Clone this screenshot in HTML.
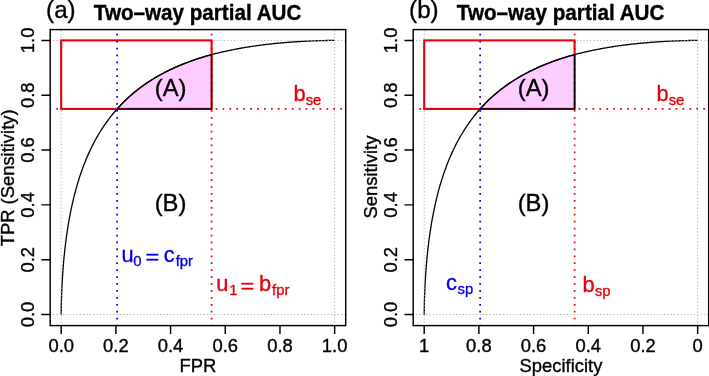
<!DOCTYPE html>
<html><head><meta charset="utf-8"><title>Two-way partial AUC</title>
<style>
html,body{margin:0;padding:0;background:#fff;}
body{width:709px;height:376px;overflow:hidden;}
svg{display:block;font-family:"Liberation Sans",Arial,Helvetica,sans-serif;}
text{stroke-width:0.35px;}
</style></head>
<body>
<svg width="709" height="376" viewBox="0 0 709 376">
<rect width="709" height="376" fill="#fff"/>
<clipPath id="clip0"><rect x="50.2" y="29.6" width="295.5" height="296"/></clipPath>
<g clip-path="url(#clip0)">
<polyline points="61.2,314.5 61.2,314.47 61.2,314.46 61.2,314.45 61.2,314.44 61.2,314.43 61.2,314.41 61.2,314.39 61.2,314.37 61.2,314.34 61.2,314.3 61.2,314.25 61.2,314.2 61.2,314.13 61.2,314.04 61.2,313.94 61.2,313.81 61.2,313.65 61.2,313.47 61.21,313.24 61.21,312.96 61.21,312.62 61.21,312.22 61.22,311.73 61.22,311.14 61.23,310.43 61.24,309.58 61.26,308.56 61.28,307.34 61.31,305.89 61.34,304.17 61.39,302.13 61.46,299.71 61.55,296.87 61.67,293.52 61.82,289.61 62.04,285.05 62.33,279.75 62.72,273.62 63.24,266.57 63.93,258.5 63.93,258.5 64.84,249.63 65.75,241.96 66.65,235.17 67.56,229.05 68.46,223.46 69.37,218.31 70.27,213.51 71.18,209.03 72.08,204.83 72.99,200.85 73.89,197.09 74.8,193.52 75.7,190.11 76.61,186.86 77.52,183.74 78.42,180.76 79.33,177.89 80.23,175.13 81.14,172.47 82.04,169.91 82.95,167.43 83.85,165.03 84.76,162.71 85.66,160.47 86.57,158.29 87.47,156.17 88.38,154.12 89.29,152.12 90.19,150.18 91.1,148.29 92,146.45 92.91,144.66 93.81,142.91 94.72,141.2 95.62,139.54 96.53,137.91 97.43,136.33 98.34,134.78 99.25,133.26 100.15,131.78 101.06,130.33 101.96,128.91 102.87,127.52 103.77,126.17 104.68,124.83 105.58,123.53 106.49,122.25 107.39,121 108.3,119.77 109.2,118.57 110.11,117.38 111.02,116.22 111.92,115.09 112.83,113.97 113.73,112.87 114.64,111.79 115.54,110.74 116.45,109.7 117.35,108.68 118.26,107.67 119.16,106.69 120.07,105.72 120.97,104.77 121.88,103.83 122.79,102.91 123.69,102 124.6,101.11 125.5,100.23 126.41,99.37 127.31,98.52 128.22,97.68 129.12,96.86 130.03,96.05 130.93,95.25 131.84,94.47 132.75,93.69 133.65,92.93 134.56,92.18 135.46,91.44 136.37,90.71 137.27,90 138.18,89.29 139.08,88.59 139.99,87.91 140.89,87.23 141.8,86.56 142.7,85.91 143.61,85.26 144.52,84.62 145.42,83.99 146.33,83.37 147.23,82.76 148.14,82.15 149.04,81.56 149.95,80.97 150.85,80.39 151.76,79.82 152.66,79.26 153.57,78.7 154.47,78.15 155.38,77.61 156.29,77.08 157.19,76.55 158.1,76.03 159,75.52 159.91,75.01 160.81,74.52 161.72,74.02 162.62,73.54 163.53,73.06 164.43,72.58 165.34,72.12 166.25,71.65 167.15,71.2 168.06,70.75 168.96,70.31 169.87,69.87 170.77,69.44 171.68,69.01 172.58,68.59 173.49,68.17 174.39,67.76 175.3,67.35 176.2,66.95 177.11,66.56 178.02,66.17 178.92,65.78 179.83,65.4 180.73,65.03 181.64,64.65 182.54,64.29 183.45,63.93 184.35,63.57 185.26,63.22 186.16,62.87 187.07,62.52 187.97,62.18 188.88,61.85 189.79,61.51 190.69,61.19 191.6,60.86 192.5,60.54 193.41,60.23 194.31,59.92 195.22,59.61 196.12,59.31 197.03,59.01 197.93,58.71 198.84,58.42 199.74,58.13 200.65,57.84 201.56,57.56 202.46,57.28 203.37,57.01 204.27,56.73 205.18,56.47 206.08,56.2 206.99,55.94 207.89,55.68 208.8,55.43 209.7,55.17 210.61,54.92 211.52,54.68 212.42,54.44 213.33,54.2 214.23,53.96 215.14,53.73 216.04,53.49 216.95,53.27 217.85,53.04 218.76,52.82 219.66,52.6 220.57,52.38 221.47,52.17 222.38,51.96 223.29,51.75 224.19,51.54 225.1,51.34 226,51.14 226.91,50.94 227.81,50.75 228.72,50.55 229.62,50.36 230.53,50.17 231.43,49.99 232.34,49.8 233.24,49.62 234.15,49.45 235.06,49.27 235.96,49.1 236.87,48.92 237.77,48.75 238.68,48.59 239.58,48.42 240.49,48.26 241.39,48.1 242.3,47.94 243.2,47.79 244.11,47.63 245.02,47.48 245.92,47.33 246.83,47.18 247.73,47.04 248.64,46.89 249.54,46.75 250.45,46.61 251.35,46.47 252.26,46.34 253.16,46.2 254.07,46.07 254.97,45.94 255.88,45.81 256.79,45.69 257.69,45.56 258.6,45.44 259.5,45.32 260.41,45.2 261.31,45.08 262.22,44.96 263.12,44.85 264.03,44.74 264.93,44.63 265.84,44.52 266.74,44.41 267.65,44.31 268.56,44.2 269.46,44.1 270.37,44 271.27,43.9 272.18,43.8 273.08,43.71 273.99,43.61 274.89,43.52 275.8,43.43 276.7,43.34 277.61,43.25 278.52,43.17 279.42,43.08 280.33,43 281.23,42.92 282.14,42.84 283.04,42.76 283.95,42.68 284.85,42.6 285.76,42.53 286.66,42.45 287.57,42.38 288.47,42.31 289.38,42.24 290.29,42.17 291.19,42.11 292.1,42.04 293,41.98 293.91,41.92 294.81,41.85 295.72,41.79 296.62,41.74 297.53,41.68 298.43,41.62 299.34,41.57 300.24,41.52 301.15,41.46 302.06,41.41 302.96,41.36 303.87,41.31 304.77,41.27 305.68,41.22 306.58,41.18 307.49,41.13 308.39,41.09 309.3,41.05 310.2,41.01 311.11,40.97 312.01,40.93 312.92,40.9 313.83,40.86 314.73,40.83 315.64,40.8 316.54,40.76 317.45,40.73 318.35,40.71 319.26,40.68 320.16,40.65 321.07,40.63 321.97,40.6 322.88,40.58 323.79,40.56 324.69,40.54 325.6,40.52 326.5,40.5 327.41,40.48 328.31,40.47 329.22,40.45 330.12,40.44 331.03,40.43 331.93,40.42 332.84,40.41 333.74,40.4 334.65,40.4" fill="none" stroke="#000" stroke-width="1.3" stroke-linejoin="round"/>
<line x1="50.2" y1="314.5" x2="345.7" y2="314.5" stroke="#A8A8A8" stroke-width="1.0" stroke-dasharray="1.1 2.25" stroke-dashoffset="0.55" fill="none"/>
<line x1="61.2" y1="325.6" x2="61.2" y2="29.6" stroke="#A8A8A8" stroke-width="1.0" stroke-dasharray="1.1 2.25" stroke-dashoffset="0.55" fill="none"/>
<line x1="50.2" y1="40.4" x2="345.7" y2="40.4" stroke="#A8A8A8" stroke-width="1.0" stroke-dasharray="1.1 2.25" stroke-dashoffset="0.55" fill="none"/>
<line x1="334.65" y1="325.6" x2="334.65" y2="29.6" stroke="#A8A8A8" stroke-width="1.0" stroke-dasharray="1.1 2.25" stroke-dashoffset="0.55" fill="none"/>
<line x1="50.2" y1="108.92" x2="345.7" y2="108.92" stroke="#E8000A" stroke-width="1.75" stroke-dasharray="1.75 5.175" stroke-dashoffset="0.8" fill="none"/>
<line x1="211.6" y1="325.6" x2="211.6" y2="29.6" stroke="#E8000A" stroke-width="1.75" stroke-dasharray="1.75 5.175" stroke-dashoffset="0.8" fill="none"/>
<line x1="117.13" y1="325.6" x2="117.13" y2="29.6" stroke="#0800E8" stroke-width="1.75" stroke-dasharray="1.75 5.175" stroke-dashoffset="0.8" fill="none"/>
<rect x="61.2" y="40.4" width="150.4" height="68.53" fill="none" stroke="#E8000A" stroke-width="2.1"/>
<polygon points="117.13,108.92 118.73,107.15 120.33,105.44 121.94,103.77 123.54,102.15 125.14,100.58 126.74,99.06 128.34,97.57 129.94,96.13 131.54,94.72 133.14,93.36 134.74,92.03 136.35,90.73 137.95,89.47 139.55,88.24 141.15,87.04 142.75,85.87 144.35,84.74 145.95,83.62 147.55,82.54 149.15,81.49 150.76,80.45 152.36,79.45 153.96,78.47 155.56,77.51 157.16,76.57 158.76,75.66 160.36,74.76 161.96,73.89 163.56,73.04 165.17,72.21 166.77,71.39 168.37,70.6 169.97,69.82 171.57,69.06 173.17,68.32 174.77,67.59 176.37,66.88 177.97,66.19 179.58,65.51 181.18,64.84 182.78,64.19 184.38,63.56 185.98,62.94 187.58,62.33 189.18,61.74 190.78,61.15 192.38,60.59 193.99,60.03 195.59,59.49 197.19,58.95 198.79,58.43 200.39,57.92 201.99,57.43 203.59,56.94 205.19,56.46 206.79,55.99 208.4,55.54 210,55.09 211.6,54.66 211.6,108.92 117.13,108.92" fill="#FF00FF" fill-opacity="0.2" stroke="#000" stroke-width="1.3" stroke-linejoin="miter"/>
</g>
<rect x="50.2" y="29.6" width="295.5" height="296" fill="none" stroke="#000" stroke-width="1.45"/>
<path d="M61.2 325.6V333.9M50.2 314.5H41.4M115.89 325.6V333.9M50.2 259.68H41.4M170.58 325.6V333.9M50.2 204.86H41.4M225.27 325.6V333.9M50.2 150.04H41.4M279.96 325.6V333.9M50.2 95.22H41.4M334.65 325.6V333.9M50.2 40.4H41.4" stroke="#000" stroke-width="1.45" fill="none"/>
<text x="61.2" y="351.7" font-size="18.4" text-anchor="middle" fill="#000" stroke="#000" font-weight="normal">0.0</text>
<text x="115.89" y="351.7" font-size="18.4" text-anchor="middle" fill="#000" stroke="#000" font-weight="normal">0.2</text>
<text x="170.58" y="351.7" font-size="18.4" text-anchor="middle" fill="#000" stroke="#000" font-weight="normal">0.4</text>
<text x="225.27" y="351.7" font-size="18.4" text-anchor="middle" fill="#000" stroke="#000" font-weight="normal">0.6</text>
<text x="279.96" y="351.7" font-size="18.4" text-anchor="middle" fill="#000" stroke="#000" font-weight="normal">0.8</text>
<text x="334.65" y="351.7" font-size="18.4" text-anchor="middle" fill="#000" stroke="#000" font-weight="normal">1.0</text>
<text x="34.2" y="314.5" font-size="18.4" text-anchor="middle" fill="#000" stroke="#000" font-weight="normal" transform="rotate(-90 34.2 314.5)">0.0</text>
<text x="34.2" y="259.68" font-size="18.4" text-anchor="middle" fill="#000" stroke="#000" font-weight="normal" transform="rotate(-90 34.2 259.68)">0.2</text>
<text x="34.2" y="204.86" font-size="18.4" text-anchor="middle" fill="#000" stroke="#000" font-weight="normal" transform="rotate(-90 34.2 204.86)">0.4</text>
<text x="34.2" y="150.04" font-size="18.4" text-anchor="middle" fill="#000" stroke="#000" font-weight="normal" transform="rotate(-90 34.2 150.04)">0.6</text>
<text x="34.2" y="95.22" font-size="18.4" text-anchor="middle" fill="#000" stroke="#000" font-weight="normal" transform="rotate(-90 34.2 95.22)">0.8</text>
<text x="34.2" y="40.4" font-size="18.4" text-anchor="middle" fill="#000" stroke="#000" font-weight="normal" transform="rotate(-90 34.2 40.4)">1.0</text>
<text x="197.95" y="371.6" font-size="18.4" text-anchor="middle" fill="#000" stroke="#000" font-weight="normal">FPR</text>
<text x="13.8" y="177.9" font-size="18.4" text-anchor="middle" fill="#000" stroke="#000" font-weight="normal" transform="rotate(-90 13.8 177.9)">TPR (Sensitivity)</text>
<text x="46.1" y="17.8" font-size="24.2" fill="#000" stroke="#000" font-weight="normal">(a)</text>
<text x="197.6" y="19.6" font-size="20.65" text-anchor="middle" fill="#000" stroke="#000" font-weight="bold" transform="matrix(1 0 0 1.05 0 -0.98)">Two&#8211;way partial AUC</text>
<text x="170.6" y="95.8" font-size="23.8" text-anchor="middle" fill="#000" stroke="#000" font-weight="normal">(A)</text>
<text x="170.5" y="211" font-size="23.8" text-anchor="middle" fill="#000" stroke="#000" font-weight="normal">(B)</text>
<text x="121.38" y="261.9" font-size="21.8" fill="#0800E8" stroke="#0800E8" font-weight="normal">u</text>
<text x="133.22" y="265.8" font-size="14.8" fill="#0800E8" stroke="#0800E8" font-weight="normal">0</text>
<text transform="translate(145.55 262.76) scale(1.08 0.88)" font-size="21.8" fill="#0800E8" stroke="#0800E8">=</text>
<text x="163.77" y="261.9" font-size="21.8" fill="#0800E8" stroke="#0800E8" font-weight="normal">c</text>
<text x="175.69" y="265.8" font-size="14.8" fill="#0800E8" stroke="#0800E8" font-weight="normal">fpr</text>
<text x="216.28" y="291.2" font-size="21.8" fill="#E8000A" stroke="#E8000A" font-weight="normal">u</text>
<text x="229.17" y="295.1" font-size="14.8" fill="#E8000A" stroke="#E8000A" font-weight="normal">1</text>
<text transform="translate(240.45 292.31) scale(1.08 0.88)" font-size="21.8" fill="#E8000A" stroke="#E8000A">=</text>
<text x="258.89" y="291.2" font-size="21.8" fill="#E8000A" stroke="#E8000A" font-weight="normal">b</text>
<text x="272.09" y="295.1" font-size="14.8" fill="#E8000A" stroke="#E8000A" font-weight="normal">fpr</text>
<text x="293.39" y="100.8" font-size="21.8" fill="#E8000A" stroke="#E8000A" font-weight="normal">b</text>
<text x="305.69" y="104.8" font-size="14.8" fill="#E8000A" stroke="#E8000A" font-weight="normal">se</text>
<clipPath id="clip363"><rect x="413.2" y="29.6" width="295.5" height="296"/></clipPath>
<g clip-path="url(#clip363)">
<polyline points="424.2,314.5 424.2,314.47 424.2,314.46 424.2,314.45 424.2,314.44 424.2,314.43 424.2,314.41 424.2,314.39 424.2,314.37 424.2,314.34 424.2,314.3 424.2,314.25 424.2,314.2 424.2,314.13 424.2,314.04 424.2,313.94 424.2,313.81 424.2,313.65 424.2,313.47 424.21,313.24 424.21,312.96 424.21,312.62 424.21,312.22 424.22,311.73 424.22,311.14 424.23,310.43 424.24,309.58 424.26,308.56 424.28,307.34 424.31,305.89 424.34,304.17 424.39,302.13 424.46,299.71 424.55,296.87 424.67,293.52 424.82,289.61 425.04,285.05 425.33,279.75 425.72,273.62 426.24,266.57 426.93,258.5 426.93,258.5 427.84,249.63 428.75,241.96 429.65,235.17 430.56,229.05 431.46,223.46 432.37,218.31 433.27,213.51 434.18,209.03 435.08,204.83 435.99,200.85 436.89,197.09 437.8,193.52 438.7,190.11 439.61,186.86 440.52,183.74 441.42,180.76 442.33,177.89 443.23,175.13 444.14,172.47 445.04,169.91 445.95,167.43 446.85,165.03 447.76,162.71 448.66,160.47 449.57,158.29 450.47,156.17 451.38,154.12 452.29,152.12 453.19,150.18 454.1,148.29 455,146.45 455.91,144.66 456.81,142.91 457.72,141.2 458.62,139.54 459.53,137.91 460.43,136.33 461.34,134.78 462.25,133.26 463.15,131.78 464.06,130.33 464.96,128.91 465.87,127.52 466.77,126.17 467.68,124.83 468.58,123.53 469.49,122.25 470.39,121 471.3,119.77 472.2,118.57 473.11,117.38 474.02,116.22 474.92,115.09 475.83,113.97 476.73,112.87 477.64,111.79 478.54,110.74 479.45,109.7 480.35,108.68 481.26,107.67 482.16,106.69 483.07,105.72 483.97,104.77 484.88,103.83 485.79,102.91 486.69,102 487.6,101.11 488.5,100.23 489.41,99.37 490.31,98.52 491.22,97.68 492.12,96.86 493.03,96.05 493.93,95.25 494.84,94.47 495.75,93.69 496.65,92.93 497.56,92.18 498.46,91.44 499.37,90.71 500.27,90 501.18,89.29 502.08,88.59 502.99,87.91 503.89,87.23 504.8,86.56 505.7,85.91 506.61,85.26 507.52,84.62 508.42,83.99 509.33,83.37 510.23,82.76 511.14,82.15 512.04,81.56 512.95,80.97 513.85,80.39 514.76,79.82 515.66,79.26 516.57,78.7 517.47,78.15 518.38,77.61 519.29,77.08 520.19,76.55 521.1,76.03 522,75.52 522.91,75.01 523.81,74.52 524.72,74.02 525.62,73.54 526.53,73.06 527.43,72.58 528.34,72.12 529.25,71.65 530.15,71.2 531.06,70.75 531.96,70.31 532.87,69.87 533.77,69.44 534.68,69.01 535.58,68.59 536.49,68.17 537.39,67.76 538.3,67.35 539.2,66.95 540.11,66.56 541.02,66.17 541.92,65.78 542.83,65.4 543.73,65.03 544.64,64.65 545.54,64.29 546.45,63.93 547.35,63.57 548.26,63.22 549.16,62.87 550.07,62.52 550.97,62.18 551.88,61.85 552.79,61.51 553.69,61.19 554.6,60.86 555.5,60.54 556.41,60.23 557.31,59.92 558.22,59.61 559.12,59.31 560.03,59.01 560.93,58.71 561.84,58.42 562.74,58.13 563.65,57.84 564.56,57.56 565.46,57.28 566.37,57.01 567.27,56.73 568.18,56.47 569.08,56.2 569.99,55.94 570.89,55.68 571.8,55.43 572.7,55.17 573.61,54.92 574.52,54.68 575.42,54.44 576.33,54.2 577.23,53.96 578.14,53.73 579.04,53.49 579.95,53.27 580.85,53.04 581.76,52.82 582.66,52.6 583.57,52.38 584.47,52.17 585.38,51.96 586.29,51.75 587.19,51.54 588.1,51.34 589,51.14 589.91,50.94 590.81,50.75 591.72,50.55 592.62,50.36 593.53,50.17 594.43,49.99 595.34,49.8 596.24,49.62 597.15,49.45 598.06,49.27 598.96,49.1 599.87,48.92 600.77,48.75 601.68,48.59 602.58,48.42 603.49,48.26 604.39,48.1 605.3,47.94 606.2,47.79 607.11,47.63 608.02,47.48 608.92,47.33 609.83,47.18 610.73,47.04 611.64,46.89 612.54,46.75 613.45,46.61 614.35,46.47 615.26,46.34 616.16,46.2 617.07,46.07 617.97,45.94 618.88,45.81 619.79,45.69 620.69,45.56 621.6,45.44 622.5,45.32 623.41,45.2 624.31,45.08 625.22,44.96 626.12,44.85 627.03,44.74 627.93,44.63 628.84,44.52 629.74,44.41 630.65,44.31 631.56,44.2 632.46,44.1 633.37,44 634.27,43.9 635.18,43.8 636.08,43.71 636.99,43.61 637.89,43.52 638.8,43.43 639.7,43.34 640.61,43.25 641.52,43.17 642.42,43.08 643.33,43 644.23,42.92 645.14,42.84 646.04,42.76 646.95,42.68 647.85,42.6 648.76,42.53 649.66,42.45 650.57,42.38 651.47,42.31 652.38,42.24 653.29,42.17 654.19,42.11 655.1,42.04 656,41.98 656.91,41.92 657.81,41.85 658.72,41.79 659.62,41.74 660.53,41.68 661.43,41.62 662.34,41.57 663.24,41.52 664.15,41.46 665.06,41.41 665.96,41.36 666.87,41.31 667.77,41.27 668.68,41.22 669.58,41.18 670.49,41.13 671.39,41.09 672.3,41.05 673.2,41.01 674.11,40.97 675.01,40.93 675.92,40.9 676.83,40.86 677.73,40.83 678.64,40.8 679.54,40.76 680.45,40.73 681.35,40.71 682.26,40.68 683.16,40.65 684.07,40.63 684.97,40.6 685.88,40.58 686.79,40.56 687.69,40.54 688.6,40.52 689.5,40.5 690.41,40.48 691.31,40.47 692.22,40.45 693.12,40.44 694.03,40.43 694.93,40.42 695.84,40.41 696.74,40.4 697.65,40.4" fill="none" stroke="#000" stroke-width="1.3" stroke-linejoin="round"/>
<line x1="413.2" y1="314.5" x2="708.7" y2="314.5" stroke="#A8A8A8" stroke-width="1.0" stroke-dasharray="1.1 2.25" stroke-dashoffset="0.55" fill="none"/>
<line x1="424.2" y1="325.6" x2="424.2" y2="29.6" stroke="#A8A8A8" stroke-width="1.0" stroke-dasharray="1.1 2.25" stroke-dashoffset="0.55" fill="none"/>
<line x1="413.2" y1="40.4" x2="708.7" y2="40.4" stroke="#A8A8A8" stroke-width="1.0" stroke-dasharray="1.1 2.25" stroke-dashoffset="0.55" fill="none"/>
<line x1="697.65" y1="325.6" x2="697.65" y2="29.6" stroke="#A8A8A8" stroke-width="1.0" stroke-dasharray="1.1 2.25" stroke-dashoffset="0.55" fill="none"/>
<line x1="413.2" y1="108.92" x2="708.7" y2="108.92" stroke="#E8000A" stroke-width="1.75" stroke-dasharray="1.75 5.175" stroke-dashoffset="0.8" fill="none"/>
<line x1="574.6" y1="325.6" x2="574.6" y2="29.6" stroke="#E8000A" stroke-width="1.75" stroke-dasharray="1.75 5.175" stroke-dashoffset="0.8" fill="none"/>
<line x1="480.13" y1="325.6" x2="480.13" y2="29.6" stroke="#0800E8" stroke-width="1.75" stroke-dasharray="1.75 5.175" stroke-dashoffset="0.8" fill="none"/>
<rect x="424.2" y="40.4" width="150.4" height="68.53" fill="none" stroke="#E8000A" stroke-width="2.1"/>
<polygon points="480.13,108.92 481.73,107.15 483.33,105.44 484.94,103.77 486.54,102.15 488.14,100.58 489.74,99.06 491.34,97.57 492.94,96.13 494.54,94.72 496.14,93.36 497.74,92.03 499.35,90.73 500.95,89.47 502.55,88.24 504.15,87.04 505.75,85.87 507.35,84.74 508.95,83.62 510.55,82.54 512.15,81.49 513.76,80.45 515.36,79.45 516.96,78.47 518.56,77.51 520.16,76.57 521.76,75.66 523.36,74.76 524.96,73.89 526.56,73.04 528.17,72.21 529.77,71.39 531.37,70.6 532.97,69.82 534.57,69.06 536.17,68.32 537.77,67.59 539.37,66.88 540.97,66.19 542.58,65.51 544.18,64.84 545.78,64.19 547.38,63.56 548.98,62.94 550.58,62.33 552.18,61.74 553.78,61.15 555.38,60.59 556.99,60.03 558.59,59.49 560.19,58.95 561.79,58.43 563.39,57.92 564.99,57.43 566.59,56.94 568.19,56.46 569.79,55.99 571.4,55.54 573,55.09 574.6,54.66 574.6,108.92 480.13,108.92" fill="#FF00FF" fill-opacity="0.2" stroke="#000" stroke-width="1.3" stroke-linejoin="miter"/>
</g>
<rect x="413.2" y="29.6" width="295.5" height="296" fill="none" stroke="#000" stroke-width="1.45"/>
<path d="M697.65 325.6V333.9M413.2 314.5H404.4M642.96 325.6V333.9M413.2 259.68H404.4M588.27 325.6V333.9M413.2 204.86H404.4M533.58 325.6V333.9M413.2 150.04H404.4M478.89 325.6V333.9M413.2 95.22H404.4M424.2 325.6V333.9M413.2 40.4H404.4" stroke="#000" stroke-width="1.45" fill="none"/>
<text x="424.2" y="351.7" font-size="18.4" text-anchor="middle" fill="#000" stroke="#000" font-weight="normal">1</text>
<text x="478.89" y="351.7" font-size="18.4" text-anchor="middle" fill="#000" stroke="#000" font-weight="normal">0.8</text>
<text x="533.58" y="351.7" font-size="18.4" text-anchor="middle" fill="#000" stroke="#000" font-weight="normal">0.6</text>
<text x="588.27" y="351.7" font-size="18.4" text-anchor="middle" fill="#000" stroke="#000" font-weight="normal">0.4</text>
<text x="642.96" y="351.7" font-size="18.4" text-anchor="middle" fill="#000" stroke="#000" font-weight="normal">0.2</text>
<text x="697.65" y="351.7" font-size="18.4" text-anchor="middle" fill="#000" stroke="#000" font-weight="normal">0</text>
<text x="397.2" y="314.5" font-size="18.4" text-anchor="middle" fill="#000" stroke="#000" font-weight="normal" transform="rotate(-90 397.2 314.5)">0.0</text>
<text x="397.2" y="259.68" font-size="18.4" text-anchor="middle" fill="#000" stroke="#000" font-weight="normal" transform="rotate(-90 397.2 259.68)">0.2</text>
<text x="397.2" y="204.86" font-size="18.4" text-anchor="middle" fill="#000" stroke="#000" font-weight="normal" transform="rotate(-90 397.2 204.86)">0.4</text>
<text x="397.2" y="150.04" font-size="18.4" text-anchor="middle" fill="#000" stroke="#000" font-weight="normal" transform="rotate(-90 397.2 150.04)">0.6</text>
<text x="397.2" y="95.22" font-size="18.4" text-anchor="middle" fill="#000" stroke="#000" font-weight="normal" transform="rotate(-90 397.2 95.22)">0.8</text>
<text x="397.2" y="40.4" font-size="18.4" text-anchor="middle" fill="#000" stroke="#000" font-weight="normal" transform="rotate(-90 397.2 40.4)">1.0</text>
<text x="560.95" y="371.6" font-size="18.4" text-anchor="middle" fill="#000" stroke="#000" font-weight="normal">Specificity</text>
<text x="376.7" y="177" font-size="18.4" text-anchor="middle" fill="#000" stroke="#000" font-weight="normal" transform="rotate(-90 376.7 177)">Sensitivity</text>
<text x="409.1" y="17.8" font-size="24.2" fill="#000" stroke="#000" font-weight="normal">(b)</text>
<text x="560.6" y="19.6" font-size="20.65" text-anchor="middle" fill="#000" stroke="#000" font-weight="bold" transform="matrix(1 0 0 1.05 0 -0.98)">Two&#8211;way partial AUC</text>
<text x="533.6" y="95.8" font-size="23.8" text-anchor="middle" fill="#000" stroke="#000" font-weight="normal">(A)</text>
<text x="533.5" y="211" font-size="23.8" text-anchor="middle" fill="#000" stroke="#000" font-weight="normal">(B)</text>
<text x="446.07" y="289.9" font-size="21.8" fill="#0800E8" stroke="#0800E8" font-weight="normal">c</text>
<text x="457.59" y="293.6" font-size="14.8" fill="#0800E8" stroke="#0800E8" font-weight="normal">sp</text>
<text x="582.39" y="291.6" font-size="21.8" fill="#E8000A" stroke="#E8000A" font-weight="normal">b</text>
<text x="594.89" y="295.6" font-size="14.8" fill="#E8000A" stroke="#E8000A" font-weight="normal">sp</text>
<text x="656.39" y="100.8" font-size="21.8" fill="#E8000A" stroke="#E8000A" font-weight="normal">b</text>
<text x="668.69" y="104.8" font-size="14.8" fill="#E8000A" stroke="#E8000A" font-weight="normal">se</text>
</svg>
</body></html>
